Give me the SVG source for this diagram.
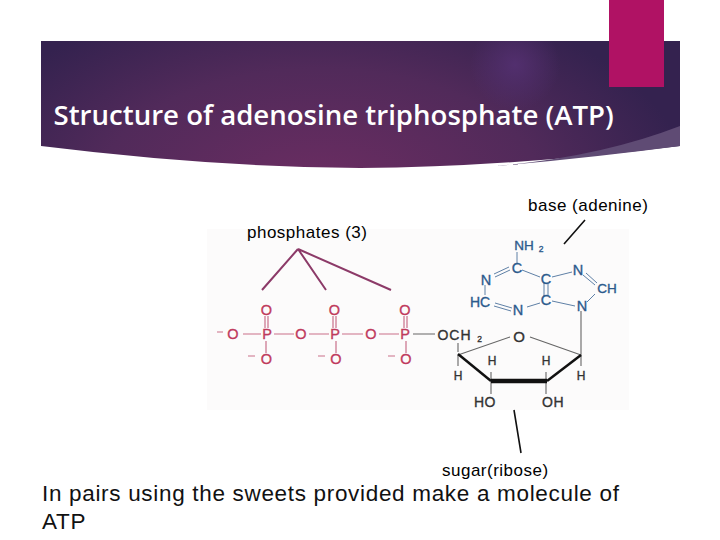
<svg xmlns="http://www.w3.org/2000/svg" width="720" height="540" viewBox="0 0 720 540">
<style>
.lab{font-family:"Liberation Sans",Arial,sans-serif;font-size:17px;letter-spacing:.5px;fill:#000}
.body{font-family:"Liberation Sans",Arial,sans-serif;font-size:22.5px;letter-spacing:.68px;fill:#111}
.title{font-family:"Open Sans",sans-serif;font-size:27.6px;font-weight:600;fill:#fff}
.chem{font-family:"Liberation Sans",Arial,sans-serif;font-size:14.5px;text-anchor:middle;stroke-width:.35px}
.r{fill:#c03a5c;stroke:#c03a5c}.b{fill:#2c5a8c;stroke:#2c5a8c}.k{fill:#333;stroke:#333}
.rl{stroke:#c9708a;stroke-width:1.2;fill:none}
.bl{stroke:#5f80a6;stroke-width:1;fill:none}
.kl{stroke:#666;stroke-width:1.1;fill:none}
.ptr{stroke:#8c3a68;stroke-width:2;fill:none}
.blk{stroke:#111;stroke-width:1.6;fill:none}
</style>
<defs>
<radialGradient id="g" gradientUnits="userSpaceOnUse" cx="320" cy="165" r="370" gradientTransform="translate(0 100) scale(1 .55)">
<stop offset="0" stop-color="#6c2d62"/><stop offset=".6" stop-color="#512a5a"/><stop offset="1" stop-color="#34224f"/>
</radialGradient>
<radialGradient id="h" gradientUnits="userSpaceOnUse" cx="515" cy="65" r="45">
<stop offset="0" stop-color="#522f6e" stop-opacity="1"/><stop offset="1" stop-color="#522f6e" stop-opacity="0"/>
</radialGradient>
</defs>
<rect width="720" height="540" fill="#fff"/>
<g id="banner">
<path d="M41 41H680V146Q510 167 360 168 210 167 41 146Z" fill="url(#g)"/>
<path d="M41 41H680V146Q510 167 360 168 210 167 41 146Z" fill="url(#h)"/>
<path d="M680 126V146Q590 158 496 166Q600 157 680 126Z" fill="#5f4b74"/>
<rect x="609" y="0" width="55" height="87" fill="#b01264"/>
<text class="title" x="53.5" y="125">Structure of adenosine triphosphate (ATP)</text>
</g>
<g id="molecule">
<rect x="207" y="229" width="422" height="181" fill="#fcfbfb"/>
<g id="phosphates">
<path class="rl" d="M217 332h6M243 334h18M274 334h20M309 334h20M342 334h21M379 334h20M248 356h7M318 356h7M388 356h7"/>
<path class="rl" d="M265 316v12M268 316v12M333 316v12M336 316v12M404 316v12M407 316v12M266 341v12M336 341v12M406 341v12"/>
<g class="r">
<text class="chem" x="266.500" y="315">O</text><text class="chem" x="334.500" y="315">O</text><text class="chem" x="405" y="315">O</text>
<text class="chem" x="233" y="339">O</text><text class="chem" x="267" y="339">P</text><text class="chem" x="301" y="339">O</text><text class="chem" x="335" y="339">P</text><text class="chem" x="371" y="339">O</text><text class="chem" x="405" y="339">P</text>
<text class="chem" x="266.500" y="364">O</text><text class="chem" x="336" y="364">O</text><text class="chem" x="406" y="364">O</text>
</g>
</g>
<g id="ribose">
<path class="kl" d="M413 334h22M458 352V343M510 337L458 355M530 337L581 355M458 355V366M581 355V366M491 380V394M546 380V394M491 380V372M546 380V372M581 355V311"/>
<path d="M458 354L491 381" stroke="#111" stroke-width="2.500" fill="none"/>
<path d="M491 381H547" stroke="#111" stroke-width="4.500" fill="none"/>
<path d="M547 381L581 355" stroke="#111" stroke-width="2.500" fill="none"/>
<g class="k">
<text class="chem" x="454.500" y="340" style="font-size:14px;letter-spacing:1px">OCH</text><text class="chem" x="479.500" y="342" style="font-size:8.500px">2</text>
<text class="chem" x="519" y="342" style="font-size:15px">O</text>
<text class="chem" x="492" y="365" style="font-size:12px">H</text><text class="chem" x="546" y="365" style="font-size:12px">H</text>
<text class="chem" x="458" y="380" style="font-size:12px">H</text><text class="chem" x="581" y="380" style="font-size:12px">H</text>
<text class="chem" x="485" y="407" style="font-size:14px;letter-spacing:.6px">HO</text><text class="chem" x="553" y="407" style="font-size:14px;letter-spacing:.6px">OH</text>
</g>
</g>
<g id="adenine">
<path class="bl" d="M517 252V263M522 270L540 277M552 277L572 272M495 277L510 270M494 274L509 267M485 285V295M495 303L512 308M494 306L511 311M527 307L540 303M544 283V296M548 283V296M552 301L575 306M583 275L595 285M586 273L597 283M595 294L587 302"/>
<g class="b">
<text class="chem" x="524" y="250" style="font-size:13.500px">NH</text><text class="chem" x="541" y="252" style="font-size:8.500px">2</text>
<text class="chem" x="517" y="273">C</text><text class="chem" x="546" y="284">C</text><text class="chem" x="578" y="275">N</text>
<text class="chem" x="486" y="285">N</text><text class="chem" x="607" y="293" style="font-size:13.500px">CH</text>
<text class="chem" x="480" y="307" style="font-size:14px">HC</text><text class="chem" x="546" y="305">C</text>
<text class="chem" x="518" y="315">N</text><text class="chem" x="582" y="311">N</text>
</g>
</g>
</g>
<g id="connectors">
<path class="ptr" d="M298 249L262 290M298 249L326 290M298 249L391 290"/>
<path class="blk" d="M564 244L585 220M514 410L521 453"/>
</g>
<g id="labels">
<text class="lab" x="528" y="211">base (adenine)</text>
<text class="lab" x="247" y="238">phosphates (3)</text>
<text class="lab" x="442" y="476">sugar(ribose)</text>
<text class="body" x="42" y="501">In pairs using the sweets provided make a molecule of</text>
<text class="body" x="42" y="529">ATP</text>
</g>
</svg>
